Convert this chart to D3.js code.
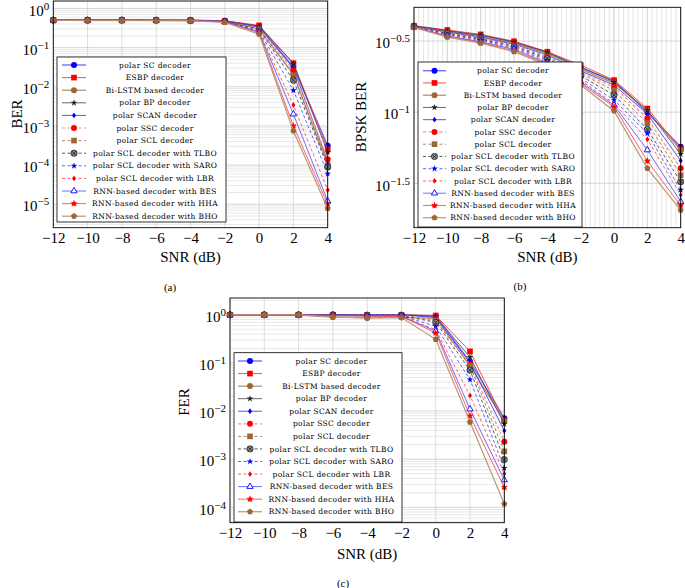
<!DOCTYPE html>
<html>
<head>
<meta charset="utf-8">
<script src="https://cdn.jsdelivr.net/npm/d3@7"></script>
<style>
  body { margin: 0; background: #fff; }
  svg { display: block; }
</style>
</head>
<body>
<svg id="chart" width="685" height="588"></svg>
<script>
// --- Data ---
const snr = [-12, -10, -8, -6, -4, -2, 0, 2, 4];
const xTicks = [-12, -10, -8, -6, -4, -2, 0, 2, 4];

const decoders = [
  "polar SC decoder",
  "ESBP decoder",
  "Bi-LSTM based decoder",
  "polar BP decoder",
  "polar SCAN decoder",
  "polar SSC decoder",
  "polar SCL decoder",
  "polar SCL decoder with TLBO",
  "polar SCL decoder with SARO",
  "polar SCL decoder with LBR",
  "RNN-based decoder with BES",
  "RNN-based decoder with HHA",
  "RNN-based decoder with BHO"
];

// (a) BER, one row per decoder
const berValues = [
  [0.50, 0.50, 0.50, 0.50, 0.50, 0.48, 0.35, 0.032, 3.1e-4],
  [0.50, 0.50, 0.50, 0.50, 0.50, 0.48, 0.37, 0.040, 2.5e-4],
  [0.50, 0.50, 0.50, 0.50, 0.49, 0.46, 0.30, 0.021, 1.05e-4],
  [0.50, 0.50, 0.50, 0.50, 0.50, 0.48, 0.35, 0.039, 2.1e-4],
  [0.50, 0.50, 0.50, 0.50, 0.50, 0.47, 0.33, 0.030, 1.25e-4],
  [0.50, 0.50, 0.50, 0.50, 0.49, 0.47, 0.31, 0.026, 1.4e-4],
  [0.50, 0.50, 0.50, 0.50, 0.49, 0.46, 0.30, 0.0197, 9.4e-5],
  [0.50, 0.50, 0.50, 0.50, 0.49, 0.47, 0.29, 0.0147, 8.9e-5],
  [0.50, 0.50, 0.50, 0.50, 0.49, 0.46, 0.27, 0.0081, 6.0e-5],
  [0.50, 0.50, 0.50, 0.50, 0.49, 0.46, 0.26, 0.0034, 2.3e-5],
  [0.50, 0.50, 0.50, 0.49, 0.49, 0.46, 0.25, 0.0020, 1.2e-5],
  [0.50, 0.50, 0.50, 0.49, 0.49, 0.45, 0.24, 0.0010, 1.0e-5],
  [0.50, 0.49, 0.49, 0.49, 0.48, 0.44, 0.22, 0.00074, 7.8e-6]
];

// (b) BPSK BER
const bpskValues = [
  [0.403, 0.372, 0.345, 0.310, 0.262, 0.205, 0.166, 0.099, 0.0571],
  [0.405, 0.378, 0.352, 0.315, 0.266, 0.214, 0.168, 0.106, 0.0551],
  [0.402, 0.368, 0.340, 0.305, 0.258, 0.200, 0.160, 0.102, 0.0540],
  [0.403, 0.374, 0.348, 0.312, 0.264, 0.208, 0.163, 0.103, 0.0508],
  [0.401, 0.365, 0.336, 0.300, 0.252, 0.195, 0.155, 0.097, 0.0456],
  [0.400, 0.362, 0.332, 0.296, 0.247, 0.190, 0.150, 0.0905, 0.0403],
  [0.400, 0.360, 0.330, 0.293, 0.243, 0.186, 0.142, 0.0836, 0.0361],
  [0.399, 0.357, 0.326, 0.289, 0.238, 0.180, 0.132, 0.0757, 0.0324],
  [0.398, 0.352, 0.321, 0.284, 0.232, 0.173, 0.122, 0.0710, 0.0284],
  [0.397, 0.348, 0.316, 0.280, 0.227, 0.167, 0.115, 0.0644, 0.0262],
  [0.396, 0.344, 0.312, 0.276, 0.222, 0.163, 0.112, 0.0542, 0.0235],
  [0.395, 0.340, 0.308, 0.270, 0.218, 0.159, 0.109, 0.0454, 0.0220],
  [0.394, 0.336, 0.305, 0.266, 0.214, 0.155, 0.102, 0.0403, 0.0205]
];

// (c) FER
const ferValues = [
  [1.0, 1.0, 1.0, 1.0, 1.0, 1.0, 0.95, 0.107, 0.0071],
  [1.0, 1.0, 1.0, 1.0, 1.0, 1.0, 0.97, 0.174, 0.0063],
  [1.0, 1.0, 1.0, 0.90, 0.86, 0.88, 0.85, 0.087, 0.0062],
  [1.0, 1.0, 1.0, 1.0, 1.0, 1.0, 0.93, 0.132, 0.0054],
  [1.0, 1.0, 1.0, 1.0, 1.0, 1.0, 0.88, 0.100, 0.0039],
  [1.0, 1.0, 1.0, 1.0, 0.98, 0.98, 0.80, 0.092, 0.0023],
  [1.0, 1.0, 1.0, 1.0, 0.98, 0.98, 0.75, 0.087, 0.00145],
  [1.0, 1.0, 1.0, 1.0, 0.97, 0.97, 0.70, 0.071, 0.00098],
  [1.0, 1.0, 1.0, 1.0, 0.97, 0.96, 0.58, 0.045, 0.00065],
  [1.0, 1.0, 1.0, 0.98, 0.96, 0.95, 0.49, 0.021, 0.00050],
  [1.0, 1.0, 1.0, 0.97, 0.95, 0.94, 0.46, 0.011, 0.00037],
  [1.0, 1.0, 1.0, 0.96, 0.94, 0.93, 0.42, 0.0079, 0.00026],
  [1.0, 1.0, 1.0, 0.90, 0.86, 0.88, 0.31, 0.0059, 0.000117]
];

// --- Series styles (pgfplots-like) ---
const BLUE = "#0000ff", RED = "#ff0000", BROWN = "#9c6636", BLACK = "#222222";
const DASH = "3,2.5";
const styles = [
  { color: BLUE,  line: "#6f6fff", width: 1.4, dash: null, marker: "circle" },
  { color: RED,   line: "#ff3a3a", width: 0.9, dash: null, marker: "square" },
  { color: BROWN, line: "#a88058", width: 1.1, dash: null, marker: "circle" },
  { color: BLACK, line: "#444444", width: 0.8, dash: null, marker: "star" },
  { color: BLUE,  line: "#2a2aff", width: 0.8, dash: null, marker: "diamond" },
  { color: RED,   line: "#ff8a8a", width: 1.2, dash: DASH, marker: "circle" },
  { color: BROWN, line: "#a57a50", width: 0.9, dash: DASH, marker: "square" },
  { color: BLACK, line: "#444444", width: 0.9, dash: DASH, marker: "otimes" },
  { color: BLUE,  line: "#3a3aff", width: 0.8, dash: DASH, marker: "star" },
  { color: RED,   line: "#ff3a3a", width: 0.8, dash: DASH, marker: "diamond" },
  { color: BLUE,  line: "#4a4aff", width: 0.8, dash: null, marker: "triangle" },
  { color: RED,   line: "#ff3a3a", width: 0.8, dash: null, marker: "asterisk" },
  { color: BROWN, line: "#b89878", width: 1.2, dash: null, marker: "pentagon" }
];

// --- Panel layout ---
const panels = [
  {
    values: berValues, x0: 53.3, x1: 327.7, y0: 1, y1: 227.7, ymin: -5.6, ymax: 0.19,
    yExps: [0, -1, -2, -3, -4, -5], minorY: true, minorXStep: null,
    ylabel: "BER", ylabelX: 17, ylabelY: 114, xlabelY: 262,
    caption: "(a)", capX: 170, capY: 291,
    legend: { x: 57, y: 57, w: 169, h: 165, first: 65, step: 12.6, lx0: 62, lx1: 86, tx: 155 }
  },
  {
    values: bpskValues, x0: 414, x1: 680.7, y0: 7.3, y1: 227.7, ymin: -1.812, ymax: -0.263,
    yExps: [-0.5, -1, -1.5], minorY: false, minorXStep: 2 / 7,
    ylabel: "BPSK BER", ylabelX: 361, ylabelY: 117, xlabelY: 262,
    caption: "(b)", capX: 520, capY: 290,
    legend: { x: 418, y: 62, w: 164, h: 165, first: 70.7, step: 12.25, lx0: 423, lx1: 446, tx: 513 }
  },
  {
    values: ferValues, x0: 230, x1: 504.3, y0: 298, y1: 522.7, ymin: -4.32, ymax: 0.35,
    yExps: [0, -1, -2, -3, -4], minorY: true, minorXStep: null,
    ylabel: "FER", ylabelX: 184, ylabelY: 402, xlabelY: 559,
    caption: "(c)", capX: 343, capY: 587,
    legend: { x: 234, y: 352.7, w: 168, h: 169.3, first: 361, step: 12.56, lx0: 238, lx1: 262, tx: 331.5 }
  }
];

const svg = d3.select("#chart");
const SERIF = '"Liberation Serif", "Times New Roman", serif';
const LEGEND_FONT = '"DejaVu Serif", serif';
const minus = v => (v < 0 ? "\u2212" + (-v) : String(v));

function drawMarker(parent, type, color, cx, cy) {
  const g = parent.append("g").attr("transform", `translate(${cx},${cy})`);
  switch (type) {
    case "circle":
      g.append("circle").attr("r", 3).attr("fill", color);
      break;
    case "square":
      g.append("path").attr("d", d3.symbol(d3.symbolSquare, 32)()).attr("fill", color);
      break;
    case "star":
      g.append("path").attr("d", d3.symbol(d3.symbolStar, 14)()).attr("fill", color);
      break;
    case "diamond":
      g.append("path").attr("d", "M0,-2.9L2,0L0,2.9L-2,0Z").attr("fill", color);
      break;
    case "otimes":
      g.append("circle").attr("r", 3.1).attr("fill", "#8a8a8a").attr("stroke", color).attr("stroke-width", 0.8);
      g.append("path").attr("d", "M-2.2,-2.2L2.2,2.2M-2.2,2.2L2.2,-2.2")
        .attr("stroke", color).attr("stroke-width", 0.8);
      break;
    case "triangle":
      g.append("path").attr("d", d3.symbol(d3.symbolTriangle, 17)())
        .attr("fill", "#fff").attr("stroke", color).attr("stroke-width", 0.9);
      break;
    case "asterisk":
      g.append("path").attr("d", d3.symbol(d3.symbolStar, 16)()).attr("fill", color);
      g.append("path").attr("d", d3.symbol(d3.symbolAsterisk, 20)())
        .attr("fill", "none").attr("stroke", color).attr("stroke-width", 0.9);
      break;
    case "pentagon": {
      const pts = d3.range(5).map(k => {
        const a = -Math.PI / 2 + k * 2 * Math.PI / 5;
        return [3.2 * Math.cos(a), 3.2 * Math.sin(a)];
      });
      g.append("path").attr("d", "M" + pts.join("L") + "Z").attr("fill", color);
      break;
    }
  }
}

function styleLine(sel, st) {
  sel.attr("fill", "none")
    .attr("stroke", st.line)
    .attr("stroke-width", st.width)
    .attr("stroke-dasharray", st.dash);
}

panels.forEach(p => {
  const x = d3.scaleLinear().domain([-12, 4]).range([p.x0, p.x1]);
  const y = d3.scaleLog().domain([10 ** p.ymin, 10 ** p.ymax]).range([p.y1, p.y0]);
  const g = svg.append("g");

  // --- Grid ---
  const grid = g.append("g");
  if (p.minorXStep) {
    const minorX = d3.range(-12, 4.0001, p.minorXStep);
    grid.selectAll(".mx").data(minorX).join("line")
      .attr("x1", d => x(d)).attr("x2", d => x(d))
      .attr("y1", p.y0).attr("y2", p.y1)
      .attr("stroke", "#d4d4d4").attr("stroke-width", 0.6);
  }
  if (p.minorY) {
    const minorY = [];
    for (let e = Math.floor(p.ymin); e <= Math.ceil(p.ymax); e++) {
      for (let k = 2; k <= 9; k++) {
        const v = k * 10 ** e;
        if (Math.log10(v) > p.ymin && Math.log10(v) < p.ymax) minorY.push(v);
      }
    }
    grid.selectAll(".my").data(minorY).join("line")
      .attr("x1", p.x0).attr("x2", p.x1)
      .attr("y1", d => y(d)).attr("y2", d => y(d))
      .attr("stroke", "#d6d6d6").attr("stroke-width", 0.6);
  }
  grid.selectAll(".gx").data(xTicks).join("line")
    .attr("x1", d => x(d)).attr("x2", d => x(d))
    .attr("y1", p.y0).attr("y2", p.y1)
    .attr("stroke", "#cfcfcf").attr("stroke-width", 0.7);
  grid.selectAll(".gy").data(p.yExps).join("line")
    .attr("x1", p.x0).attr("x2", p.x1)
    .attr("y1", d => y(10 ** d)).attr("y2", d => y(10 ** d))
    .attr("stroke", "#c4c4c4").attr("stroke-width", 0.7);

  // --- Series ---
  const line = d3.line().x((d, i) => x(snr[i])).y(d => y(d));
  p.values.forEach((vals, si) => {
    const st = styles[si];
    g.append("path").datum(vals).call(styleLine, st).attr("d", line);
    vals.forEach((v, i) => drawMarker(g, st.marker, st.color, x(snr[i]), y(v)));
  });

  // --- Frame ---
  g.append("rect")
    .attr("x", p.x0).attr("y", p.y0)
    .attr("width", p.x1 - p.x0).attr("height", p.y1 - p.y0)
    .attr("fill", "none").attr("stroke", "#000").attr("stroke-width", 0.9);

  // --- Axes ---
  const xa = g.append("g").attr("transform", `translate(0,${p.y1})`)
    .call(d3.axisBottom(x).tickValues(xTicks).tickSize(0).tickPadding(5).tickFormat(minus));
  xa.select(".domain").remove();
  xa.selectAll("text").attr("font-family", SERIF).attr("font-size", 15).attr("fill", "#000");

  const ya = g.append("g").attr("transform", `translate(${p.x0},0)`)
    .call(d3.axisLeft(y).tickValues(p.yExps.map(e => 10 ** e)).tickSize(0).tickPadding(4).tickFormat(""));
  ya.select(".domain").remove();
  ya.selectAll(".tick text").each(function (d, i) {
    const t = d3.select(this)
      .attr("font-family", SERIF).attr("font-size", 15).attr("fill", "#000").attr("dy", "0.45em");
    t.append("tspan").text("10");
    t.append("tspan").attr("dy", -6).attr("font-size", 11).text(minus(p.yExps[i]));
  });

  // --- Labels ---
  g.append("text")
    .attr("transform", `translate(${p.ylabelX},${p.ylabelY}) rotate(-90)`)
    .attr("text-anchor", "middle").attr("dominant-baseline", "central")
    .attr("font-family", SERIF).attr("font-size", 15)
    .text(p.ylabel);
  g.append("text")
    .attr("x", (p.x0 + p.x1) / 2).attr("y", p.xlabelY)
    .attr("text-anchor", "middle")
    .attr("font-family", SERIF).attr("font-size", 15)
    .text("SNR (dB)");
  g.append("text")
    .attr("x", p.capX).attr("y", p.capY)
    .attr("text-anchor", "middle")
    .attr("font-family", SERIF).attr("font-size", 11)
    .text(p.caption);

  // --- Legend ---
  const L = p.legend;
  const lg = g.append("g");
  lg.append("rect")
    .attr("x", L.x).attr("y", L.y).attr("width", L.w).attr("height", L.h)
    .attr("fill", "#fff").attr("stroke", "#000").attr("stroke-width", 0.8);
  decoders.forEach((name, i) => {
    const st = styles[i];
    const ly = L.first + i * L.step;
    lg.append("line")
      .attr("x1", L.lx0).attr("x2", L.lx1).attr("y1", ly).attr("y2", ly)
      .call(styleLine, st);
    drawMarker(lg, st.marker, st.color, (L.lx0 + L.lx1) / 2, ly);
    lg.append("text")
      .attr("x", L.tx).attr("y", ly).attr("dy", "0.35em")
      .attr("text-anchor", "middle")
      .attr("font-family", LEGEND_FONT).attr("font-size", 7.5)
      .attr("letter-spacing", 0.35)
      .text(name);
  });
});
</script>
</body>
</html>
